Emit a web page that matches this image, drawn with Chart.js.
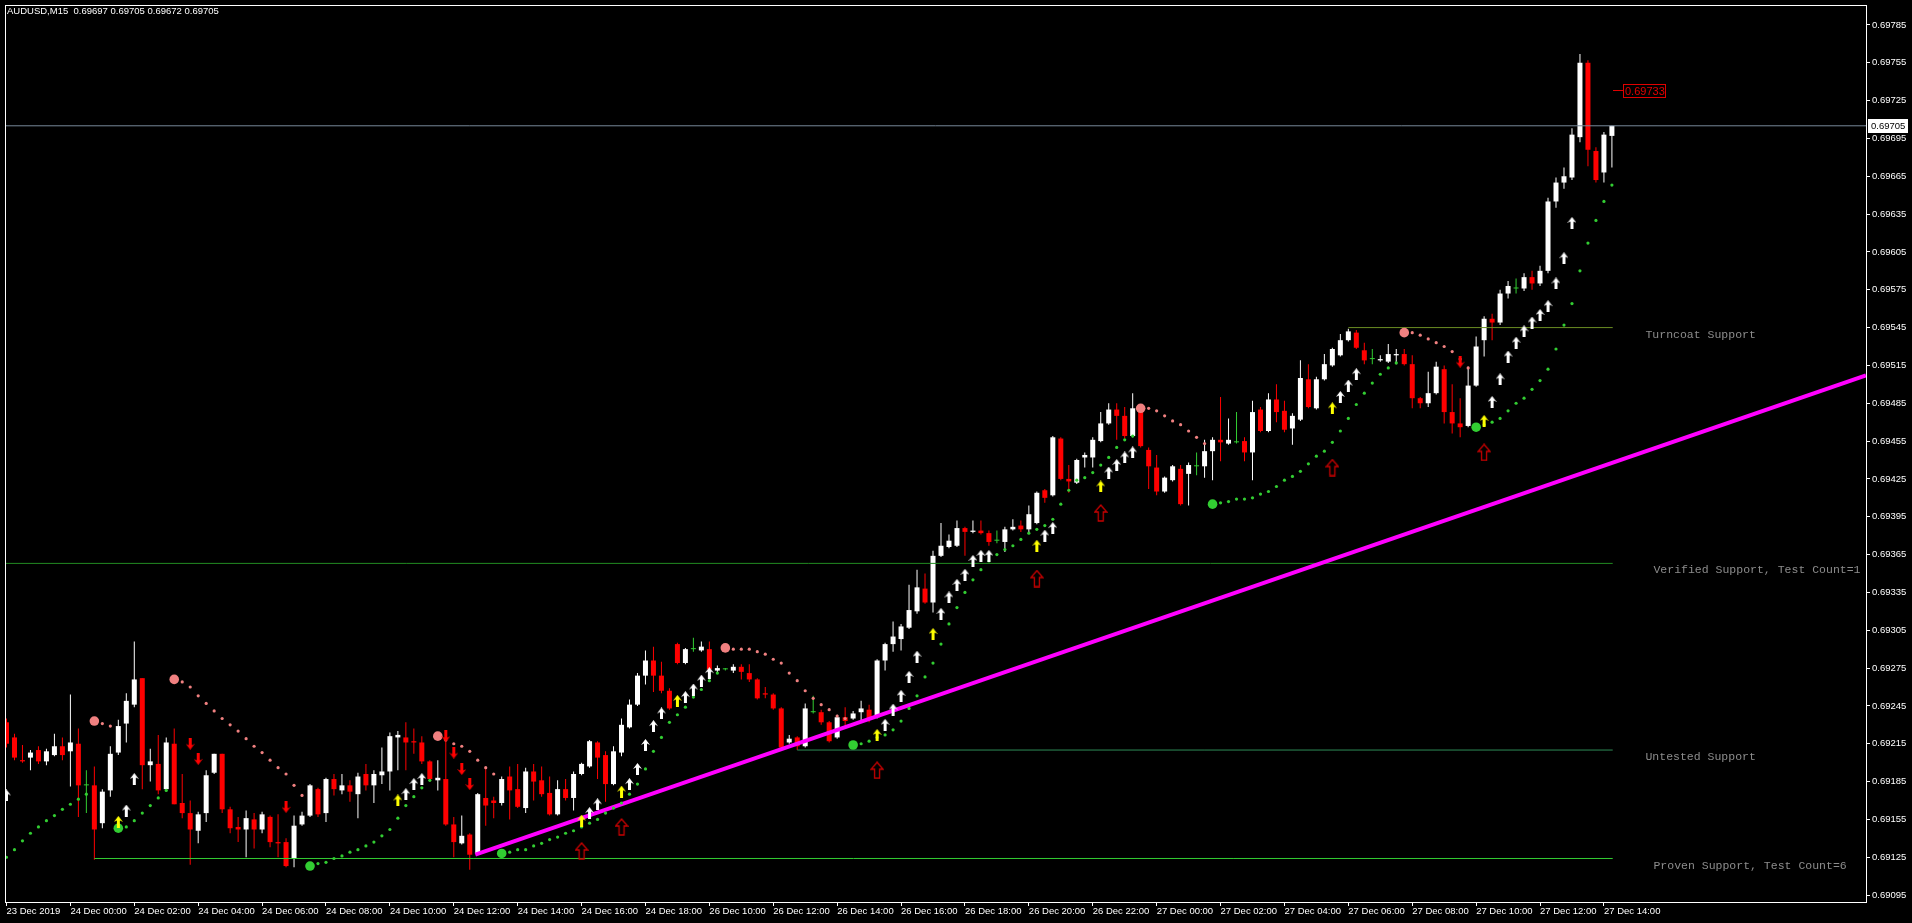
<!DOCTYPE html>
<html>
<head>
<meta charset="utf-8">
<script src="https://cdn.jsdelivr.net/npm/chart.js@4.4.1/dist/chart.umd.min.js"></script>
<style>
  html, body { margin: 0; padding: 0; background: #000; overflow: hidden; }
  canvas { display: block; }
</style>
</head>
<body>
<canvas id="chart" width="1912" height="923"></canvas>
<script>
// AUDUSD M15, 202 bars, 23 Dec 22:00 -> 27 Dec 14:15
const symbol = "AUDUSD,M15";

const openP = [
  0.69232,0.69220,0.69202,0.69204,0.69210,0.69201,0.69206,0.69213,0.69209,0.69215,
  0.69182,0.69182,0.69152,0.69178,0.69208,0.69231,0.69246,0.69267,0.69198,0.69199,
  0.69179,0.69215,0.69168,0.69160,0.69146,0.69160,0.69192,0.69207,0.69163,0.69149,
  0.69147,0.69155,0.69147,0.69157,0.69137,0.69137,0.69124,0.69151,0.69158,0.69179,
  0.69160,0.69187,0.69178,0.69182,0.69175,0.69191,0.69182,0.69190,0.69193,0.69220,
  0.69220,0.69217,0.69216,0.69201,0.69186,0.69187,0.69151,0.69136,0.69143,0.69128,
  0.69172,0.69170,0.69168,0.69189,0.69179,0.69164,0.69193,0.69186,0.69176,0.69159,
  0.69179,0.69172,0.69191,0.69197,0.69216,0.69206,0.69183,0.69208,0.69228,0.69246,
  0.69269,0.69281,0.69269,0.69257,0.69294,0.69279,0.69290,0.69289,0.69290,0.69273,
  0.69274,0.69273,0.69276,0.69271,0.69266,0.69255,0.69254,0.69243,0.69216,0.69220,
  0.69213,0.69240,0.69240,0.69232,0.69220,0.69236,0.69235,0.69240,0.69242,0.69236,
  0.69281,0.69294,0.69298,0.69307,0.69320,0.69338,0.69327,0.69364,0.69371,0.69372,
  0.69386,0.69383,0.69384,0.69382,0.69376,0.69375,0.69385,0.69388,0.69385,0.69390,
  0.69416,0.69412,0.69457,0.69425,0.69422,0.69442,0.69442,0.69455,0.69469,0.69480,
  0.69475,0.69459,0.69481,0.69448,0.69434,0.69415,0.69424,0.69433,0.69429,0.69435,
  0.69435,0.69447,0.69456,0.69453,0.69454,0.69455,0.69446,0.69480,0.69463,0.69488,
  0.69479,0.69465,0.69472,0.69504,0.69481,0.69504,0.69515,0.69523,0.69535,0.69541,
  0.69527,0.69520,0.69519,0.69518,0.69523,0.69524,0.69516,0.69489,0.69485,0.69493,
  0.69512,0.69478,0.69469,0.69467,0.69499,0.69535,0.69552,0.69549,0.69572,0.69576,
  0.69576,0.69585,0.69580,0.69590,0.69645,0.69660,0.69664,0.69696,0.69755,0.69685,
  0.69668,0.69697
];
const highP = [
  0.69235,0.69223,0.69214,0.69210,0.69213,0.69211,0.69223,0.69220,0.69254,0.69227,
  0.69194,0.69197,0.69179,0.69213,0.69234,0.69255,0.69296,0.69267,0.69211,0.69222,
  0.69220,0.69227,0.69191,0.69170,0.69161,0.69194,0.69207,0.69207,0.69165,0.69157,
  0.69162,0.69160,0.69161,0.69158,0.69159,0.69140,0.69158,0.69161,0.69183,0.69180,
  0.69188,0.69191,0.69191,0.69186,0.69192,0.69199,0.69194,0.69212,0.69224,0.69225,
  0.69232,0.69227,0.69221,0.69202,0.69202,0.69224,0.69157,0.69158,0.69144,0.69176,
  0.69195,0.69173,0.69189,0.69197,0.69199,0.69196,0.69199,0.69197,0.69189,0.69186,
  0.69187,0.69193,0.69200,0.69218,0.69217,0.69209,0.69213,0.69235,0.69250,0.69271,
  0.69289,0.69292,0.69280,0.69259,0.69295,0.69291,0.69299,0.69296,0.69296,0.69277,
  0.69275,0.69278,0.69278,0.69278,0.69267,0.69260,0.69255,0.69244,0.69222,0.69221,
  0.69247,0.69253,0.69242,0.69233,0.69238,0.69244,0.69241,0.69249,0.69246,0.69282,
  0.69295,0.69312,0.69310,0.69341,0.69353,0.69350,0.69368,0.69390,0.69381,0.69392,
  0.69387,0.69392,0.69392,0.69384,0.69384,0.69387,0.69393,0.69392,0.69404,0.69415,
  0.69417,0.69459,0.69458,0.69436,0.69441,0.69446,0.69458,0.69478,0.69485,0.69485,
  0.69482,0.69493,0.69483,0.69450,0.69444,0.69427,0.69436,0.69436,0.69438,0.69446,
  0.69456,0.69458,0.69490,0.69473,0.69478,0.69458,0.69487,0.69482,0.69493,0.69500,
  0.69487,0.69477,0.69519,0.69516,0.69506,0.69524,0.69529,0.69540,0.69544,0.69543,
  0.69533,0.69528,0.69523,0.69532,0.69528,0.69528,0.69523,0.69490,0.69510,0.69518,
  0.69515,0.69500,0.69489,0.69514,0.69538,0.69554,0.69556,0.69575,0.69582,0.69584,
  0.69588,0.69590,0.69594,0.69648,0.69664,0.69672,0.69703,0.69762,0.69757,0.69688,
  0.69700,0.69705
];
const lowP = [
  0.69212,0.69202,0.69200,0.69194,0.69199,0.69198,0.69205,0.69202,0.69181,0.69157,
  0.69160,0.69123,0.69148,0.69173,0.69206,0.69216,0.69244,0.69179,0.69185,0.69175,
  0.69178,0.69167,0.69156,0.69119,0.69136,0.69153,0.69191,0.69160,0.69144,0.69137,
  0.69125,0.69132,0.69144,0.69133,0.69125,0.69117,0.69117,0.69150,0.69157,0.69157,
  0.69153,0.69174,0.69175,0.69169,0.69156,0.69178,0.69168,0.69183,0.69178,0.69194,
  0.69194,0.69207,0.69199,0.69185,0.69178,0.69150,0.69125,0.69135,0.69115,0.69127,
  0.69150,0.69156,0.69166,0.69155,0.69164,0.69160,0.69170,0.69173,0.69158,0.69158,
  0.69170,0.69162,0.69190,0.69196,0.69187,0.69169,0.69182,0.69205,0.69227,0.69245,
  0.69262,0.69256,0.69255,0.69242,0.69278,0.69278,0.69288,0.69288,0.69273,0.69271,
  0.69273,0.69271,0.69266,0.69264,0.69250,0.69251,0.69242,0.69211,0.69215,0.69210,
  0.69212,0.69239,0.69230,0.69216,0.69219,0.69227,0.69234,0.69233,0.69232,0.69235,
  0.69273,0.69288,0.69289,0.69306,0.69318,0.69326,0.69319,0.69363,0.69370,0.69371,
  0.69364,0.69382,0.69381,0.69372,0.69374,0.69367,0.69384,0.69383,0.69383,0.69389,
  0.69406,0.69411,0.69424,0.69414,0.69421,0.69434,0.69434,0.69454,0.69468,0.69456,
  0.69457,0.69458,0.69450,0.69417,0.69412,0.69414,0.69423,0.69404,0.69404,0.69428,
  0.69426,0.69424,0.69439,0.69452,0.69453,0.69439,0.69424,0.69462,0.69462,0.69470,
  0.69462,0.69452,0.69471,0.69481,0.69480,0.69503,0.69514,0.69522,0.69534,0.69528,
  0.69516,0.69516,0.69518,0.69517,0.69516,0.69515,0.69481,0.69481,0.69482,0.69492,
  0.69469,0.69461,0.69458,0.69466,0.69498,0.69522,0.69535,0.69547,0.69568,0.69572,
  0.69574,0.69575,0.69578,0.69588,0.69640,0.69655,0.69662,0.69692,0.69673,0.69660,
  0.69660,0.69672
];
const closeP = [
  0.69215,0.69204,0.69201,0.69208,0.69201,0.69209,0.69213,0.69206,0.69216,0.69182,
  0.69182,0.69147,0.69177,0.69207,0.69229,0.69249,0.69266,0.69198,0.69201,0.69178,
  0.69216,0.69167,0.69160,0.69147,0.69159,0.69190,0.69207,0.69163,0.69148,0.69147,
  0.69156,0.69147,0.69159,0.69137,0.69136,0.69118,0.69150,0.69158,0.69182,0.69159,
  0.69187,0.69179,0.69182,0.69177,0.69189,0.69182,0.69191,0.69193,0.69221,0.69222,
  0.69216,0.69216,0.69201,0.69187,0.69188,0.69151,0.69137,0.69142,0.69127,0.69175,
  0.69166,0.69168,0.69187,0.69178,0.69165,0.69193,0.69185,0.69175,0.69159,0.69179,
  0.69172,0.69191,0.69199,0.69217,0.69204,0.69183,0.69209,0.69230,0.69246,0.69269,
  0.69281,0.69269,0.69257,0.69243,0.69279,0.69290,0.69290,0.69292,0.69274,0.69275,
  0.69274,0.69276,0.69272,0.69266,0.69251,0.69254,0.69243,0.69212,0.69219,0.69213,
  0.69243,0.69240,0.69232,0.69217,0.69236,0.69233,0.69239,0.69243,0.69235,0.69281,
  0.69294,0.69300,0.69308,0.69321,0.69339,0.69327,0.69364,0.69372,0.69376,0.69386,
  0.69383,0.69384,0.69382,0.69375,0.69376,0.69385,0.69387,0.69385,0.69397,0.69414,
  0.69410,0.69458,0.69425,0.69423,0.69440,0.69444,0.69456,0.69469,0.69480,0.69475,
  0.69459,0.69481,0.69451,0.69435,0.69415,0.69426,0.69435,0.69405,0.69436,0.69435,
  0.69447,0.69456,0.69454,0.69456,0.69454,0.69446,0.69478,0.69463,0.69488,0.69478,
  0.69464,0.69475,0.69505,0.69482,0.69504,0.69516,0.69528,0.69535,0.69542,0.69529,
  0.69519,0.69520,0.69520,0.69524,0.69524,0.69516,0.69489,0.69485,0.69493,0.69514,
  0.69478,0.69469,0.69466,0.69499,0.69530,0.69552,0.69549,0.69572,0.69578,0.69576,
  0.69585,0.69580,0.69590,0.69645,0.69660,0.69665,0.69698,0.69755,0.69686,0.69662,
  0.69698,0.69705
];

// trailing stop dots (one per bar), trend flips at these bars
const sarVal = [
  0.69125,0.69131,0.69138,0.69144,0.69149,0.69154,0.69158,0.69163,0.69167,0.69171,
  0.69175,0.69233,0.69231,0.69229,0.69148,0.69149,0.69154,0.69160,0.69166,0.69172,
  0.69178,0.69266,0.69264,0.69260,0.69253,0.69247,0.69241,0.69235,0.69230,0.69225,
  0.69219,0.69213,0.69208,0.69202,0.69196,0.69191,0.69182,0.69174,0.69118,0.69120,
  0.69121,0.69124,0.69126,0.69129,0.69131,0.69134,0.69137,0.69142,0.69147,0.69156,
  0.69166,0.69173,0.69180,0.69186,0.69221,0.69218,0.69215,0.69213,0.69209,0.69202,
  0.69196,0.69191,0.69128,0.69129,0.69131,0.69131,0.69134,0.69136,0.69139,0.69141,
  0.69144,0.69146,0.69149,0.69152,0.69155,0.69160,0.69164,0.69168,0.69175,0.69183,
  0.69195,0.69209,0.69220,0.69232,0.69238,0.69244,0.69252,0.69258,0.69265,0.69271,
  0.69291,0.69290,0.69290,0.69290,0.69288,0.69286,0.69282,0.69279,0.69271,0.69265,
  0.69257,0.69251,0.69246,0.69242,0.69237,0.69235,0.69214,0.69215,0.69217,0.69220,
  0.69222,0.69226,0.69233,0.69243,0.69253,0.69268,0.69279,0.69294,0.69310,0.69323,
  0.69335,0.69345,0.69353,0.69360,0.69365,0.69369,0.69372,0.69377,0.69382,0.69385,
  0.69388,0.69393,0.69405,0.69416,0.69424,0.69426,0.69430,0.69436,0.69442,0.69450,
  0.69456,0.69459,0.69481,0.69481,0.69479,0.69475,0.69471,0.69468,0.69463,0.69458,
  0.69453,0.69405,0.69406,0.69407,0.69409,0.69409,0.69410,0.69413,0.69415,0.69419,
  0.69424,0.69427,0.69431,0.69437,0.69443,0.69447,0.69454,0.69463,0.69473,0.69484,
  0.69493,0.69501,0.69508,0.69513,0.69517,0.69541,0.69541,0.69539,0.69536,0.69533,
  0.69530,0.69526,0.69520,0.69513,0.69466,0.69468,0.69470,0.69473,0.69479,0.69485,
  0.69489,0.69496,0.69503,0.69512,0.69528,0.69547,0.69564,0.69590,0.69612,0.69630,
  0.69645,0.69658
];
const sarStartUp = true;
const sarFlips = [11, 14, 21, 38, 54, 62, 90, 106, 142, 151, 175, 184];

// signal arrows: bar index + price
const whiteUpBars = [0,15,16,50,51,52,73,74,78,79,80,81,82,85,86,87,88,110,111,112,113,114,117,118,119,120,121,122,123,130,131,138,139,140,141,167,168,169,186,187,188,189,190,191,192,193,194,195,196];
const whiteUpVals = [0.69174,0.69162,0.69187,0.69175,0.69183,0.69187,0.69160,0.69167,0.69183,0.69195,0.69214,0.69229,0.69239,0.69252,0.69258,0.69265,0.69271,0.69230,0.69242,0.69253,0.69268,0.69284,0.69318,0.69331,0.69341,0.69349,0.69360,0.69364,0.69364,0.69380,0.69386,0.69430,0.69436,0.69442,0.69446,0.69490,0.69499,0.69508,0.69486,0.69504,0.69522,0.69533,0.69542,0.69549,0.69555,0.69562,0.69580,0.69600,0.69628];
const yellowUpBars = [14,49,72,77,84,109,116,129,137,166,185];
const yellowUpVals = [0.69153,0.69170,0.69154,0.69177,0.69249,0.69222,0.69302,0.69372,0.69419,0.69481,0.69471];
const redDownBars = [23,24,35,55,56,57,58,182];
const redDownVals = [0.69215,0.69203,0.69165,0.69221,0.69208,0.69195,0.69183,0.69518];
const hollowUpBars = [72,77,109,129,137,166,185];
const hollowUpVals = [0.69130,0.69149,0.69194,0.69346,0.69398,0.69434,0.69446];

// support zones
const zoneNames = ["Turncoat Support", "Verified Support, Test Count=1", "Untested Support", "Proven Support, Test Count=6"];
const zoneLevels = [0.69545, 0.69358, 0.69210, 0.69124];
const zoneStart = [168, -1, 99, 11];
const zoneEnd = 201.1;

// trend line anchors
const trendBars = [58.7, 232.8];
const trendVals = [0.69127, 0.69507];

const bidPrice = 0.69705;
const targetPrice = 0.69733;

// axis ticks
const yTicks = [0.69095,0.69125,0.69155,0.69185,0.69215,0.69245,0.69275,0.69305,0.69335,0.69365,0.69395,0.69425,
  0.69455,0.69485,0.69515,0.69545,0.69575,0.69605,0.69635,0.69665,0.69695,0.69725,0.69755,0.69785];
const xTickBars = [0,8,16,24,32,40,48,56,64,72,80,88,96,104,112,120,128,136,144,152,160,168,176,184,192,200];
const xTickLabels = ["23 Dec 2019","24 Dec 00:00","24 Dec 02:00","24 Dec 04:00","24 Dec 06:00","24 Dec 08:00",
  "24 Dec 10:00","24 Dec 12:00","24 Dec 14:00","24 Dec 16:00","24 Dec 18:00","26 Dec 10:00","26 Dec 12:00",
  "26 Dec 14:00","26 Dec 16:00","26 Dec 18:00","26 Dec 20:00","26 Dec 22:00","27 Dec 00:00","27 Dec 02:00",
  "27 Dec 04:00","27 Dec 06:00","27 Dec 08:00","27 Dec 10:00","27 Dec 12:00","27 Dec 14:00"];

// ---- look ----
const X_MIN = -0.1875, X_SPAN = 233;
const Y_MIN = 0.690895, Y_MAX = 0.698008;
const BULL = "#ffffff", BEAR = "#ff0000", DOJI = "#32cd32";
const zoneColors = ["#6b8e23", "#228b22", "#2e8b57", "#32cd32"];
const zoneLabelDx = [0, 8, 0, 8];
const zoneLabelBar = 205.2;
const axisFont = { family: "'Liberation Sans', Arial, sans-serif", size: 9.5 };

const bars = openP.map((_, i) => i);
const candleColor = bars.map((i) =>
  closeP[i] === openP[i] ? DOJI : closeP[i] > openP[i] ? BULL : BEAR
);

// dots: small per bar, big on the first bar of each trend
let up = sarStartUp;
const dotUp = [], dotDown = [], bigUp = [], bigDown = [];
sarVal.forEach((v, i) => {
  if (sarFlips.includes(i)) {
    up = !up;
    (up ? bigUp : bigDown).push({ x: i, y: v });
  } else {
    (up ? dotUp : dotDown).push({ x: i, y: v });
  }
});

function makeArrow(color, down) {
  const c = document.createElement("canvas");
  c.width = 9;
  c.height = 12;
  const g = c.getContext("2d");
  if (down) {
    g.translate(0, 12);
    g.scale(1, -1);
  }
  g.fillStyle = color;
  g.beginPath();
  g.moveTo(4.5, 0);
  g.lineTo(9, 6);
  g.lineTo(6, 4.5);
  g.lineTo(6, 12);
  g.lineTo(3, 12);
  g.lineTo(3, 4.5);
  g.lineTo(0, 6);
  g.closePath();
  g.fill();
  return c;
}

function makeHollowArrow(color) {
  const c = document.createElement("canvas");
  c.width = 14;
  c.height = 18;
  const g = c.getContext("2d");
  g.strokeStyle = color;
  g.lineWidth = 1.3;
  g.beginPath();
  g.moveTo(7, 1);
  g.lineTo(13, 8);
  g.lineTo(9.5, 8);
  g.lineTo(9.5, 17);
  g.lineTo(4.5, 17);
  g.lineTo(4.5, 8);
  g.lineTo(1, 8);
  g.closePath();
  g.stroke();
  return c;
}

const pairs = (xs, ys) => xs.map((x, k) => ({ x: x, y: ys[k] }));

// no label overflow padding, the plot box is fixed
const noPad = (s) => {
  s.paddingTop = 0;
  s.paddingBottom = 0;
  s.paddingLeft = 0;
  s.paddingRight = 0;
};

const datasets = [
  {
    type: "bar",
    data: bars.map((i) => ({ x: i, y: [lowP[i], highP[i]] })),
    backgroundColor: candleColor,
    maxBarThickness: 1,
    grouped: false,
    order: 20,
  },
  {
    type: "bar",
    data: bars.map((i) => ({ x: i, y: [openP[i], closeP[i]] })),
    backgroundColor: candleColor,
    maxBarThickness: 5,
    minBarLength: 1,
    grouped: false,
    order: 19,
  },
];

zoneNames.forEach((name, k) => {
  datasets.push({
    type: "line",
    data: [{ x: zoneStart[k], y: zoneLevels[k] }, { x: zoneEnd, y: zoneLevels[k] }],
    borderColor: zoneColors[k],
    borderWidth: 1,
    pointRadius: 0,
    order: 8,
  });
});

datasets.push(
  {
    type: "line",
    data: [{ x: X_MIN - 1, y: bidPrice }, { x: X_MIN + X_SPAN + 1, y: bidPrice }],
    borderColor: "#778899",
    borderWidth: 1,
    pointRadius: 0,
    order: 9,
  },
  {
    type: "line",
    data: pairs(trendBars, trendVals),
    borderColor: "#ff00ff",
    borderWidth: 4,
    pointRadius: 0,
    order: 6,
  },
  { type: "scatter", data: dotUp, backgroundColor: "#32cd32", pointRadius: 1.6, pointBorderWidth: 0, order: 4 },
  { type: "scatter", data: dotDown, backgroundColor: "#f08080", pointRadius: 1.6, pointBorderWidth: 0, order: 4 },
  { type: "scatter", data: bigUp, backgroundColor: "#32cd32", pointRadius: 4.8, pointBorderWidth: 0, order: 3 },
  { type: "scatter", data: bigDown, backgroundColor: "#f08080", pointRadius: 4.8, pointBorderWidth: 0, order: 3 },
  { type: "scatter", data: pairs(whiteUpBars, whiteUpVals), pointStyle: makeArrow("#ffffff", false), order: 2 },
  { type: "scatter", data: pairs(yellowUpBars, yellowUpVals), pointStyle: makeArrow("#ffff00", false), order: 2 },
  { type: "scatter", data: pairs(redDownBars, redDownVals), pointStyle: makeArrow("#ff0000", true), order: 2 },
  { type: "scatter", data: pairs(hollowUpBars, hollowUpVals), pointStyle: makeHollowArrow("#c80000"), order: 2 }
);

// texts, frame and price boxes
const overlay = {
  id: "overlay",
  afterDatasetsDraw(chart) {
    const { ctx, scales } = chart;
    const x = scales.x, y = scales.y;
    ctx.save();
    ctx.font = "11.5px 'Liberation Mono', monospace";
    ctx.fillStyle = "#8c8c8c";
    ctx.textBaseline = "middle";
    ctx.textAlign = "left";
    zoneNames.forEach((name, k) => {
      ctx.fillText(name, x.getPixelForValue(zoneLabelBar) + zoneLabelDx[k], y.getPixelForValue(zoneLevels[k]) + 7);
    });

    // target price box
    const tx = Math.round(x.getPixelForValue(zoneEnd));
    const ty = Math.round(y.getPixelForValue(targetPrice)) - 0.5;
    ctx.strokeStyle = "#e00000";
    ctx.lineWidth = 1;
    ctx.beginPath();
    ctx.moveTo(tx, ty);
    ctx.lineTo(tx + 10, ty);
    ctx.stroke();
    ctx.strokeRect(tx + 10.5, ty - 6, 42, 13);
    ctx.fillStyle = "#e00000";
    ctx.font = "11px 'Liberation Sans', Arial, sans-serif";
    ctx.fillText(targetPrice.toFixed(5), tx + 12, ty + 1);
    ctx.restore();
  },
  afterDraw(chart) {
    const { ctx, chartArea, scales } = chart;
    ctx.save();
    ctx.strokeStyle = "#ffffff";
    ctx.lineWidth = 1;
    ctx.strokeRect(chartArea.left + 0.5, chartArea.top + 0.5, chartArea.right - chartArea.left, chartArea.bottom - chartArea.top);

    // header
    const last = openP.length - 1;
    const ohlc = [openP[last], highP[last], lowP[last], closeP[last]].map((v) => v.toFixed(5)).join(" ");
    ctx.fillStyle = "#ffffff";
    ctx.font = "9.5px 'Liberation Sans', Arial, sans-serif";
    ctx.textBaseline = "middle";
    ctx.fillText(symbol + "  " + ohlc, 7, 11);

    // bid box on the price axis
    const by = Math.round(scales.y.getPixelForValue(bidPrice));
    ctx.fillStyle = "#ffffff";
    ctx.fillRect(chartArea.right + 2, by - 7, 40, 14);
    ctx.fillStyle = "#000000";
    ctx.fillText(bidPrice.toFixed(5), chartArea.right + 5, by);
    ctx.restore();
  },
};

new Chart(document.getElementById("chart"), {
  type: "bar",
  data: { datasets: datasets },
  options: {
    responsive: false,
    animation: false,
    events: [],
    layout: { padding: { left: 2, top: 2, right: 0, bottom: 0 } },
    elements: { bar: { borderWidth: 0, inflateAmount: 0 } },
    plugins: { legend: { display: false }, tooltip: { enabled: false } },
    scales: {
      x: {
        type: "linear",
        min: X_MIN,
        max: X_MIN + X_SPAN,
        offset: false,
        afterBuildTicks: (s) => { s.ticks = xTickBars.map((v) => ({ value: v })); },
        afterFit: (s) => { s.height = 21; noPad(s); },
        ticks: {
          autoSkip: false,
          maxRotation: 0,
          minRotation: 0,
          align: "start",
          padding: 0,
          color: "#ffffff",
          font: axisFont,
          callback: (v) => xTickLabels[xTickBars.indexOf(v)],
        },
        grid: { drawOnChartArea: false, tickLength: 4, color: "#ffffff", offset: false },
        border: { display: false },
      },
      y: {
        position: "right",
        min: Y_MIN,
        max: Y_MAX,
        afterBuildTicks: (s) => { s.ticks = yTicks.map((v) => ({ value: v })); },
        afterFit: (s) => { s.width = 46; noPad(s); },
        ticks: { padding: 2, color: "#ffffff", font: axisFont, callback: (v) => v.toFixed(5) },
        grid: { drawOnChartArea: false, tickLength: 4, color: "#ffffff" },
        border: { display: false },
      },
    },
  },
  plugins: [overlay],
});
</script>
</body>
</html>
